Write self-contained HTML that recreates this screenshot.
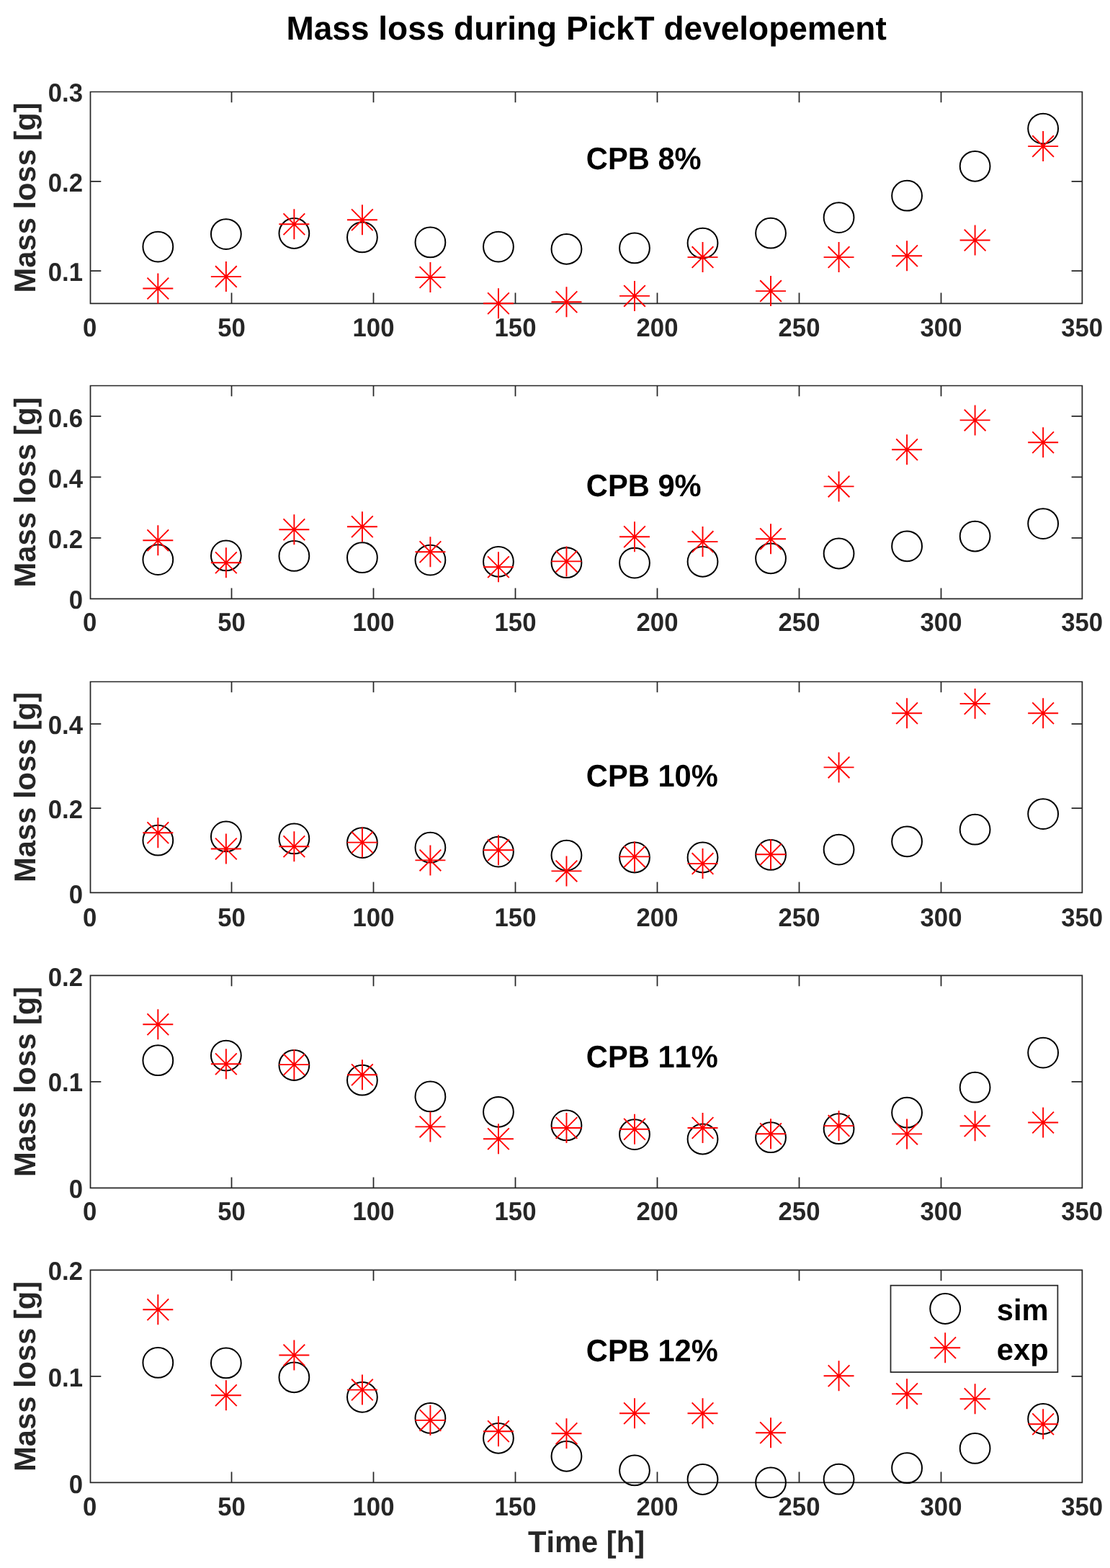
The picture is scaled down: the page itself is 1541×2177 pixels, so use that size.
<!DOCTYPE html><html><head><meta charset="utf-8"><title>Mass loss during PickT developement</title><style>
html,body{margin:0;padding:0;background:#fff;}body{width:1541px;height:2177px;overflow:hidden;}
svg{display:block;}text{font-family:"Liberation Sans",Arial,Helvetica,sans-serif;font-weight:bold;text-rendering:geometricPrecision;font-kerning:none;}
.ax{fill:none;stroke:#262626;stroke-width:1.74;}
.tk{fill:#262626;font-size:34.7px;}
.lb{fill:#262626;font-size:41.7px;}
.ci{fill:none;stroke:#000;stroke-width:2;}
.as{fill:none;stroke:#f00;stroke-width:1.9;}
</style></head><body>
<svg width="1541" height="2177" viewBox="0 0 1541 2177">
<rect width="1541" height="2177" fill="#fff"/>
<text text-anchor="middle" style="font-size:46px" fill="#000" transform="translate(814.1 54.8)">Mass loss during PickT developement</text>
<g><path class="ax" d="M125.5 127.5H1502.4V421.3H125.5ZM321.5 421.3V406.5M321.5 127.5V142.3M518.5 421.3V406.5M518.5 127.5V142.3M715.5 421.3V406.5M715.5 127.5V142.3M912.5 421.3V406.5M912.5 127.5V142.3M1109.5 421.3V406.5M1109.5 127.5V142.3M1306.5 421.3V406.5M1306.5 127.5V142.3M125.5 376.06H140.3M1502.4 376.06H1487.6M125.5 251.78H140.3M1502.4 251.78H1487.6"/><text class="tk" text-anchor="middle" transform="translate(124.6 467.2) scale(1 1.034)">0</text><text class="tk" text-anchor="middle" transform="translate(321.5 467.2) scale(1 1.034)">50</text><text class="tk" text-anchor="middle" transform="translate(518.5 467.2) scale(1 1.034)">100</text><text class="tk" text-anchor="middle" transform="translate(715.5 467.2) scale(1 1.034)">150</text><text class="tk" text-anchor="middle" transform="translate(912.5 467.2) scale(1 1.034)">200</text><text class="tk" text-anchor="middle" transform="translate(1109.5 467.2) scale(1 1.034)">250</text><text class="tk" text-anchor="middle" transform="translate(1306.5 467.2) scale(1 1.034)">300</text><text class="tk" text-anchor="middle" transform="translate(1502.2 467.2) scale(1 1.034)">350</text><text class="tk" text-anchor="end" transform="translate(115 389.86) scale(1 1.034)">0.1</text><text class="tk" text-anchor="end" transform="translate(115 265.58) scale(1 1.034)">0.2</text><text class="tk" text-anchor="end" transform="translate(115 141.3) scale(1 1.034)">0.3</text><text class="lb" text-anchor="middle" transform="translate(49.2 274.4) rotate(-90)">Mass loss [g]</text><text style="font-size:41.7px" fill="#000" transform="translate(813.8 234.8) scale(1 1.037)">CPB 8%</text><g class="ci"><circle cx="219.32" cy="342.6" r="20.9"/><circle cx="313.85" cy="325.1" r="20.9"/><circle cx="408.37" cy="324" r="20.9"/><circle cx="502.9" cy="329.4" r="20.9"/><circle cx="597.42" cy="336.4" r="20.9"/><circle cx="691.94" cy="342.6" r="20.9"/><circle cx="786.47" cy="345.8" r="20.9"/><circle cx="880.99" cy="344.4" r="20.9"/><circle cx="975.52" cy="337.6" r="20.9"/><circle cx="1070.04" cy="323.7" r="20.9"/><circle cx="1164.56" cy="302.1" r="20.9"/><circle cx="1259.09" cy="271.7" r="20.9"/><circle cx="1353.61" cy="230.8" r="20.9"/><circle cx="1448.14" cy="178.6" r="20.9"/></g><g class="as"><path d="M198.32 400.5H240.32M219.32 379.5V421.5M204.47 385.65L234.17 415.35M204.47 415.35L234.17 385.65"/><path d="M292.85 384.1H334.85M313.85 363.1V405.1M299 369.25L328.7 398.95M299 398.95L328.7 369.25"/><path d="M387.37 311.2H429.37M408.37 290.2V332.2M393.52 296.35L423.22 326.05M393.52 326.05L423.22 296.35"/><path d="M481.9 305.3H523.9M502.9 284.3V326.3M488.05 290.45L517.75 320.15M488.05 320.15L517.75 290.45"/><path d="M576.42 385H618.42M597.42 364V406M582.57 370.15L612.27 399.85M582.57 399.85L612.27 370.15"/><path d="M670.94 421.3H712.94M691.94 400.3V442.3M677.09 406.45L706.79 436.15M677.09 436.15L706.79 406.45"/><path d="M765.47 419.2H807.47M786.47 398.2V440.2M771.62 404.35L801.32 434.05M771.62 434.05L801.32 404.35"/><path d="M859.99 410.9H901.99M880.99 389.9V431.9M866.14 396.05L895.84 425.75M866.14 425.75L895.84 396.05"/><path d="M954.52 357.1H996.52M975.52 336.1V378.1M960.67 342.25L990.37 371.95M960.67 371.95L990.37 342.25"/><path d="M1049.04 404.1H1091.04M1070.04 383.1V425.1M1055.19 389.25L1084.89 418.95M1055.19 418.95L1084.89 389.25"/><path d="M1143.56 357.1H1185.56M1164.56 336.1V378.1M1149.71 342.25L1179.41 371.95M1149.71 371.95L1179.41 342.25"/><path d="M1238.09 355.3H1280.09M1259.09 334.3V376.3M1244.24 340.45L1273.94 370.15M1244.24 370.15L1273.94 340.45"/><path d="M1332.61 333.5H1374.61M1353.61 312.5V354.5M1338.76 318.65L1368.46 348.35M1338.76 348.35L1368.46 318.65"/><path d="M1427.14 203.1H1469.14M1448.14 182.1V224.1M1433.29 188.25L1462.99 217.95M1433.29 217.95L1462.99 188.25"/></g></g>
<g><path class="ax" d="M125.5 535.5H1502.4V831.3H125.5ZM321.5 831.3V816.5M321.5 535.5V550.3M518.5 831.3V816.5M518.5 535.5V550.3M715.5 831.3V816.5M715.5 535.5V550.3M912.5 831.3V816.5M912.5 535.5V550.3M1109.5 831.3V816.5M1109.5 535.5V550.3M1306.5 831.3V816.5M1306.5 535.5V550.3M125.5 746.79H140.3M1502.4 746.79H1487.6M125.5 662.27H140.3M1502.4 662.27H1487.6M125.5 577.76H140.3M1502.4 577.76H1487.6"/><text class="tk" text-anchor="middle" transform="translate(124.6 876.2) scale(1 1.034)">0</text><text class="tk" text-anchor="middle" transform="translate(321.5 876.2) scale(1 1.034)">50</text><text class="tk" text-anchor="middle" transform="translate(518.5 876.2) scale(1 1.034)">100</text><text class="tk" text-anchor="middle" transform="translate(715.5 876.2) scale(1 1.034)">150</text><text class="tk" text-anchor="middle" transform="translate(912.5 876.2) scale(1 1.034)">200</text><text class="tk" text-anchor="middle" transform="translate(1109.5 876.2) scale(1 1.034)">250</text><text class="tk" text-anchor="middle" transform="translate(1306.5 876.2) scale(1 1.034)">300</text><text class="tk" text-anchor="middle" transform="translate(1502.2 876.2) scale(1 1.034)">350</text><text class="tk" text-anchor="end" transform="translate(115 845.1) scale(1 1.034)">0</text><text class="tk" text-anchor="end" transform="translate(115 760.59) scale(1 1.034)">0.2</text><text class="tk" text-anchor="end" transform="translate(115 677.07) scale(1 1.034)">0.4</text><text class="tk" text-anchor="end" transform="translate(115 592.56) scale(1 1.034)">0.6</text><text class="lb" text-anchor="middle" transform="translate(49.2 683.4) rotate(-90)">Mass loss [g]</text><text style="font-size:41.7px" fill="#000" transform="translate(813.8 688.7) scale(1 1.037)">CPB 9%</text><g class="ci"><circle cx="219.32" cy="777.1" r="20.9"/><circle cx="313.85" cy="771.4" r="20.9"/><circle cx="408.37" cy="771.9" r="20.9"/><circle cx="502.9" cy="774.2" r="20.9"/><circle cx="597.42" cy="777.6" r="20.9"/><circle cx="691.94" cy="779.8" r="20.9"/><circle cx="786.47" cy="781.2" r="20.9"/><circle cx="880.99" cy="781.6" r="20.9"/><circle cx="975.52" cy="779.8" r="20.9"/><circle cx="1070.04" cy="775.3" r="20.9"/><circle cx="1164.56" cy="768.5" r="20.9"/><circle cx="1259.09" cy="758.3" r="20.9"/><circle cx="1353.61" cy="744.6" r="20.9"/><circle cx="1448.14" cy="727.1" r="20.9"/></g><g class="as"><path d="M198.32 750.3H240.32M219.32 729.3V771.3M204.47 735.45L234.17 765.15M204.47 765.15L234.17 735.45"/><path d="M292.85 781.2H334.85M313.85 760.2V802.2M299 766.35L328.7 796.05M299 796.05L328.7 766.35"/><path d="M387.37 735.3H429.37M408.37 714.3V756.3M393.52 720.45L423.22 750.15M393.52 750.15L423.22 720.45"/><path d="M481.9 731.2H523.9M502.9 710.2V752.2M488.05 716.35L517.75 746.05M488.05 746.05L517.75 716.35"/><path d="M576.42 766.2H618.42M597.42 745.2V787.2M582.57 751.35L612.27 781.05M582.57 781.05L612.27 751.35"/><path d="M670.94 787.3H712.94M691.94 766.3V808.3M677.09 772.45L706.79 802.15M677.09 802.15L706.79 772.45"/><path d="M765.47 779.4H807.47M786.47 758.4V800.4M771.62 764.55L801.32 794.25M771.62 794.25L801.32 764.55"/><path d="M859.99 745.3H901.99M880.99 724.3V766.3M866.14 730.45L895.84 760.15M866.14 760.15L895.84 730.45"/><path d="M954.52 752.1H996.52M975.52 731.1V773.1M960.67 737.25L990.37 766.95M960.67 766.95L990.37 737.25"/><path d="M1049.04 748.3H1091.04M1070.04 727.3V769.3M1055.19 733.45L1084.89 763.15M1055.19 763.15L1084.89 733.45"/><path d="M1143.56 675.4H1185.56M1164.56 654.4V696.4M1149.71 660.55L1179.41 690.25M1149.71 690.25L1179.41 660.55"/><path d="M1238.09 624.3H1280.09M1259.09 603.3V645.3M1244.24 609.45L1273.94 639.15M1244.24 639.15L1273.94 609.45"/><path d="M1332.61 583.4H1374.61M1353.61 562.4V604.4M1338.76 568.55L1368.46 598.25M1338.76 598.25L1368.46 568.55"/><path d="M1427.14 614.3H1469.14M1448.14 593.3V635.3M1433.29 599.45L1462.99 629.15M1433.29 629.15L1462.99 599.45"/></g></g>
<g><path class="ax" d="M125.5 946.5H1502.4V1239.3H125.5ZM321.5 1239.3V1224.5M321.5 946.5V961.3M518.5 1239.3V1224.5M518.5 946.5V961.3M715.5 1239.3V1224.5M715.5 946.5V961.3M912.5 1239.3V1224.5M912.5 946.5V961.3M1109.5 1239.3V1224.5M1109.5 946.5V961.3M1306.5 1239.3V1224.5M1306.5 946.5V961.3M125.5 1122.18H140.3M1502.4 1122.18H1487.6M125.5 1005.06H140.3M1502.4 1005.06H1487.6"/><text class="tk" text-anchor="middle" transform="translate(124.6 1286.2) scale(1 1.034)">0</text><text class="tk" text-anchor="middle" transform="translate(321.5 1286.2) scale(1 1.034)">50</text><text class="tk" text-anchor="middle" transform="translate(518.5 1286.2) scale(1 1.034)">100</text><text class="tk" text-anchor="middle" transform="translate(715.5 1286.2) scale(1 1.034)">150</text><text class="tk" text-anchor="middle" transform="translate(912.5 1286.2) scale(1 1.034)">200</text><text class="tk" text-anchor="middle" transform="translate(1109.5 1286.2) scale(1 1.034)">250</text><text class="tk" text-anchor="middle" transform="translate(1306.5 1286.2) scale(1 1.034)">300</text><text class="tk" text-anchor="middle" transform="translate(1502.2 1286.2) scale(1 1.034)">350</text><text class="tk" text-anchor="end" transform="translate(115 1254.1) scale(1 1.034)">0</text><text class="tk" text-anchor="end" transform="translate(115 1135.98) scale(1 1.034)">0.2</text><text class="tk" text-anchor="end" transform="translate(115 1018.86) scale(1 1.034)">0.4</text><text class="lb" text-anchor="middle" transform="translate(49.2 1092.9) rotate(-90)">Mass loss [g]</text><text style="font-size:41.7px" fill="#000" transform="translate(813.8 1091.7) scale(1 1.037)">CPB 10%</text><g class="ci"><circle cx="219.32" cy="1166.7" r="20.9"/><circle cx="313.85" cy="1161.4" r="20.9"/><circle cx="408.37" cy="1164.4" r="20.9"/><circle cx="502.9" cy="1170.1" r="20.9"/><circle cx="597.42" cy="1176.7" r="20.9"/><circle cx="691.94" cy="1182.6" r="20.9"/><circle cx="786.47" cy="1187.6" r="20.9"/><circle cx="880.99" cy="1190.5" r="20.9"/><circle cx="975.52" cy="1190.5" r="20.9"/><circle cx="1070.04" cy="1186.9" r="20.9"/><circle cx="1164.56" cy="1179.6" r="20.9"/><circle cx="1259.09" cy="1168.3" r="20.9"/><circle cx="1353.61" cy="1151.7" r="20.9"/><circle cx="1448.14" cy="1130.1" r="20.9"/></g><g class="as"><path d="M198.32 1156.2H240.32M219.32 1135.2V1177.2M204.47 1141.35L234.17 1171.05M204.47 1171.05L234.17 1141.35"/><path d="M292.85 1178.5H334.85M313.85 1157.5V1199.5M299 1163.65L328.7 1193.35M299 1193.35L328.7 1163.65"/><path d="M387.37 1175.3H429.37M408.37 1154.3V1196.3M393.52 1160.45L423.22 1190.15M393.52 1190.15L423.22 1160.45"/><path d="M481.9 1169.6H523.9M502.9 1148.6V1190.6M488.05 1154.75L517.75 1184.45M488.05 1184.45L517.75 1154.75"/><path d="M576.42 1194.4H618.42M597.42 1173.4V1215.4M582.57 1179.55L612.27 1209.25M582.57 1209.25L612.27 1179.55"/><path d="M670.94 1180.3H712.94M691.94 1159.3V1201.3M677.09 1165.45L706.79 1195.15M677.09 1195.15L706.79 1165.45"/><path d="M765.47 1209.4H807.47M786.47 1188.4V1230.4M771.62 1194.55L801.32 1224.25M771.62 1224.25L801.32 1194.55"/><path d="M859.99 1189.4H901.99M880.99 1168.4V1210.4M866.14 1174.55L895.84 1204.25M866.14 1204.25L895.84 1174.55"/><path d="M954.52 1199.1H996.52M975.52 1178.1V1220.1M960.67 1184.25L990.37 1213.95M960.67 1213.95L990.37 1184.25"/><path d="M1049.04 1186.2H1091.04M1070.04 1165.2V1207.2M1055.19 1171.35L1084.89 1201.05M1055.19 1201.05L1084.89 1171.35"/><path d="M1143.56 1065.4H1185.56M1164.56 1044.4V1086.4M1149.71 1050.55L1179.41 1080.25M1149.71 1080.25L1179.41 1050.55"/><path d="M1238.09 990.2H1280.09M1259.09 969.2V1011.2M1244.24 975.35L1273.94 1005.05M1244.24 1005.05L1273.94 975.35"/><path d="M1332.61 977H1374.61M1353.61 956V998M1338.76 962.15L1368.46 991.85M1338.76 991.85L1368.46 962.15"/><path d="M1427.14 990.2H1469.14M1448.14 969.2V1011.2M1433.29 975.35L1462.99 1005.05M1433.29 1005.05L1462.99 975.35"/></g></g>
<g><path class="ax" d="M125.5 1354.4H1502.4V1649.3H125.5ZM321.5 1649.3V1634.5M321.5 1354.4V1369.2M518.5 1649.3V1634.5M518.5 1354.4V1369.2M715.5 1649.3V1634.5M715.5 1354.4V1369.2M912.5 1649.3V1634.5M912.5 1354.4V1369.2M1109.5 1649.3V1634.5M1109.5 1354.4V1369.2M1306.5 1649.3V1634.5M1306.5 1354.4V1369.2M125.5 1501.85H140.3M1502.4 1501.85H1487.6"/><text class="tk" text-anchor="middle" transform="translate(124.6 1694.2) scale(1 1.034)">0</text><text class="tk" text-anchor="middle" transform="translate(321.5 1694.2) scale(1 1.034)">50</text><text class="tk" text-anchor="middle" transform="translate(518.5 1694.2) scale(1 1.034)">100</text><text class="tk" text-anchor="middle" transform="translate(715.5 1694.2) scale(1 1.034)">150</text><text class="tk" text-anchor="middle" transform="translate(912.5 1694.2) scale(1 1.034)">200</text><text class="tk" text-anchor="middle" transform="translate(1109.5 1694.2) scale(1 1.034)">250</text><text class="tk" text-anchor="middle" transform="translate(1306.5 1694.2) scale(1 1.034)">300</text><text class="tk" text-anchor="middle" transform="translate(1502.2 1694.2) scale(1 1.034)">350</text><text class="tk" text-anchor="end" transform="translate(115 1663.1) scale(1 1.034)">0</text><text class="tk" text-anchor="end" transform="translate(115 1514.65) scale(1 1.034)">0.1</text><text class="tk" text-anchor="end" transform="translate(115 1369.2) scale(1 1.034)">0.2</text><text class="lb" text-anchor="middle" transform="translate(49.2 1501.85) rotate(-90)">Mass loss [g]</text><text style="font-size:41.7px" fill="#000" transform="translate(813.8 1481.8) scale(1 1.037)">CPB 11%</text><g class="ci"><circle cx="219.32" cy="1472.2" r="20.9"/><circle cx="313.85" cy="1465.6" r="20.9"/><circle cx="408.37" cy="1479" r="20.9"/><circle cx="502.9" cy="1499.7" r="20.9"/><circle cx="597.42" cy="1522.4" r="20.9"/><circle cx="691.94" cy="1543.8" r="20.9"/><circle cx="786.47" cy="1562.4" r="20.9"/><circle cx="880.99" cy="1575.1" r="20.9"/><circle cx="975.52" cy="1581.5" r="20.9"/><circle cx="1070.04" cy="1579.2" r="20.9"/><circle cx="1164.56" cy="1567.2" r="20.9"/><circle cx="1259.09" cy="1544.7" r="20.9"/><circle cx="1353.61" cy="1509.7" r="20.9"/><circle cx="1448.14" cy="1461.6" r="20.9"/></g><g class="as"><path d="M198.32 1422.3H240.32M219.32 1401.3V1443.3M204.47 1407.45L234.17 1437.15M204.47 1437.15L234.17 1407.45"/><path d="M292.85 1477.2H334.85M313.85 1456.2V1498.2M299 1462.35L328.7 1492.05M299 1492.05L328.7 1462.35"/><path d="M387.37 1478.1H429.37M408.37 1457.1V1499.1M393.52 1463.25L423.22 1492.95M393.52 1492.95L423.22 1463.25"/><path d="M481.9 1492.2H523.9M502.9 1471.2V1513.2M488.05 1477.35L517.75 1507.05M488.05 1507.05L517.75 1477.35"/><path d="M576.42 1564.4H618.42M597.42 1543.4V1585.4M582.57 1549.55L612.27 1579.25M582.57 1579.25L612.27 1549.55"/><path d="M670.94 1581.2H712.94M691.94 1560.2V1602.2M677.09 1566.35L706.79 1596.05M677.09 1596.05L706.79 1566.35"/><path d="M765.47 1566H807.47M786.47 1545V1587M771.62 1551.15L801.32 1580.85M771.62 1580.85L801.32 1551.15"/><path d="M859.99 1567.8H901.99M880.99 1546.8V1588.8M866.14 1552.95L895.84 1582.65M866.14 1582.65L895.84 1552.95"/><path d="M954.52 1566H996.52M975.52 1545V1587M960.67 1551.15L990.37 1580.85M960.67 1580.85L990.37 1551.15"/><path d="M1049.04 1574.2H1091.04M1070.04 1553.2V1595.2M1055.19 1559.35L1084.89 1589.05M1055.19 1589.05L1084.89 1559.35"/><path d="M1143.56 1563.1H1185.56M1164.56 1542.1V1584.1M1149.71 1548.25L1179.41 1577.95M1149.71 1577.95L1179.41 1548.25"/><path d="M1238.09 1574.4H1280.09M1259.09 1553.4V1595.4M1244.24 1559.55L1273.94 1589.25M1244.24 1589.25L1273.94 1559.55"/><path d="M1332.61 1563.3H1374.61M1353.61 1542.3V1584.3M1338.76 1548.45L1368.46 1578.15M1338.76 1578.15L1368.46 1548.45"/><path d="M1427.14 1558.5H1469.14M1448.14 1537.5V1579.5M1433.29 1543.65L1462.99 1573.35M1433.29 1573.35L1462.99 1543.65"/></g></g>
<g><path class="ax" d="M125.5 1763.4H1502.4V2058.4H125.5ZM321.5 2058.4V2043.6M321.5 1763.4V1778.2M518.5 2058.4V2043.6M518.5 1763.4V1778.2M715.5 2058.4V2043.6M715.5 1763.4V1778.2M912.5 2058.4V2043.6M912.5 1763.4V1778.2M1109.5 2058.4V2043.6M1109.5 1763.4V1778.2M1306.5 2058.4V2043.6M1306.5 1763.4V1778.2M125.5 1910.9H140.3M1502.4 1910.9H1487.6"/><text class="tk" text-anchor="middle" transform="translate(124.6 2104.3) scale(1 1.034)">0</text><text class="tk" text-anchor="middle" transform="translate(321.5 2104.3) scale(1 1.034)">50</text><text class="tk" text-anchor="middle" transform="translate(518.5 2104.3) scale(1 1.034)">100</text><text class="tk" text-anchor="middle" transform="translate(715.5 2104.3) scale(1 1.034)">150</text><text class="tk" text-anchor="middle" transform="translate(912.5 2104.3) scale(1 1.034)">200</text><text class="tk" text-anchor="middle" transform="translate(1109.5 2104.3) scale(1 1.034)">250</text><text class="tk" text-anchor="middle" transform="translate(1306.5 2104.3) scale(1 1.034)">300</text><text class="tk" text-anchor="middle" transform="translate(1502.2 2104.3) scale(1 1.034)">350</text><text class="tk" text-anchor="end" transform="translate(115 2073.2) scale(1 1.034)">0</text><text class="tk" text-anchor="end" transform="translate(115 1924.7) scale(1 1.034)">0.1</text><text class="tk" text-anchor="end" transform="translate(115 1777.2) scale(1 1.034)">0.2</text><text class="lb" text-anchor="middle" transform="translate(49.2 1910.9) rotate(-90)">Mass loss [g]</text><text style="font-size:41.7px" fill="#000" transform="translate(813.8 1889.8) scale(1 1.037)">CPB 12%</text><g class="ci"><circle cx="219.32" cy="1891.9" r="20.9"/><circle cx="313.85" cy="1892.4" r="20.9"/><circle cx="408.37" cy="1912.3" r="20.9"/><circle cx="502.9" cy="1939.8" r="20.9"/><circle cx="597.42" cy="1968.9" r="20.9"/><circle cx="691.94" cy="1996.8" r="20.9"/><circle cx="786.47" cy="2021.8" r="20.9"/><circle cx="880.99" cy="2041.4" r="20.9"/><circle cx="975.52" cy="2054" r="20.9"/><circle cx="1070.04" cy="2058.3" r="20.9"/><circle cx="1164.56" cy="2053.7" r="20.9"/><circle cx="1259.09" cy="2038.2" r="20.9"/><circle cx="1353.61" cy="2010.9" r="20.9"/><circle cx="1448.14" cy="1970" r="20.9"/></g><g class="as"><path d="M198.32 1818.3H240.32M219.32 1797.3V1839.3M204.47 1803.45L234.17 1833.15M204.47 1833.15L234.17 1803.45"/><path d="M292.85 1937.3H334.85M313.85 1916.3V1958.3M299 1922.45L328.7 1952.15M299 1952.15L328.7 1922.45"/><path d="M387.37 1881.5H429.37M408.37 1860.5V1902.5M393.52 1866.65L423.22 1896.35M393.52 1896.35L423.22 1866.65"/><path d="M481.9 1929.6H523.9M502.9 1908.6V1950.6M488.05 1914.75L517.75 1944.45M488.05 1944.45L517.75 1914.75"/><path d="M576.42 1971.9H618.42M597.42 1950.9V1992.9M582.57 1957.05L612.27 1986.75M582.57 1986.75L612.27 1957.05"/><path d="M670.94 1987.3H712.94M691.94 1966.3V2008.3M677.09 1972.45L706.79 2002.15M677.09 2002.15L706.79 1972.45"/><path d="M765.47 1990.2H807.47M786.47 1969.2V2011.2M771.62 1975.35L801.32 2005.05M771.62 2005.05L801.32 1975.35"/><path d="M859.99 1962.3H901.99M880.99 1941.3V1983.3M866.14 1947.45L895.84 1977.15M866.14 1977.15L895.84 1947.45"/><path d="M954.52 1962.3H996.52M975.52 1941.3V1983.3M960.67 1947.45L990.37 1977.15M960.67 1977.15L990.37 1947.45"/><path d="M1049.04 1989.3H1091.04M1070.04 1968.3V2010.3M1055.19 1974.45L1084.89 2004.15M1055.19 2004.15L1084.89 1974.45"/><path d="M1143.56 1910.3H1185.56M1164.56 1889.3V1931.3M1149.71 1895.45L1179.41 1925.15M1149.71 1925.15L1179.41 1895.45"/><path d="M1238.09 1935.3H1280.09M1259.09 1914.3V1956.3M1244.24 1920.45L1273.94 1950.15M1244.24 1950.15L1273.94 1920.45"/><path d="M1332.61 1942.3H1374.61M1353.61 1921.3V1963.3M1338.76 1927.45L1368.46 1957.15M1338.76 1957.15L1368.46 1927.45"/><path d="M1427.14 1977.3H1469.14M1448.14 1956.3V1998.3M1433.29 1962.45L1462.99 1992.15M1433.29 1992.15L1462.99 1962.45"/></g></g>
<rect x="1236.5" y="1784.7" width="231.9" height="120.4" class="ax" style="fill:#fff"/>
<g class="ci"><circle cx="1312.2" cy="1817" r="20.9"/></g>
<g class="as"><path d="M1291.2 1871.2H1333.2M1312.2 1850.2V1892.2M1297.35 1856.35L1327.05 1886.05M1297.35 1886.05L1327.05 1856.35"/></g>
<text style="font-size:41.7px" fill="#000" transform="translate(1383.8 1832.6)">sim</text>
<text style="font-size:41.7px" fill="#000" transform="translate(1383.8 1887.6)">exp</text>
<text class="lb" text-anchor="middle" transform="translate(814 2154.9)">Time [h]</text>
</svg></body></html>
